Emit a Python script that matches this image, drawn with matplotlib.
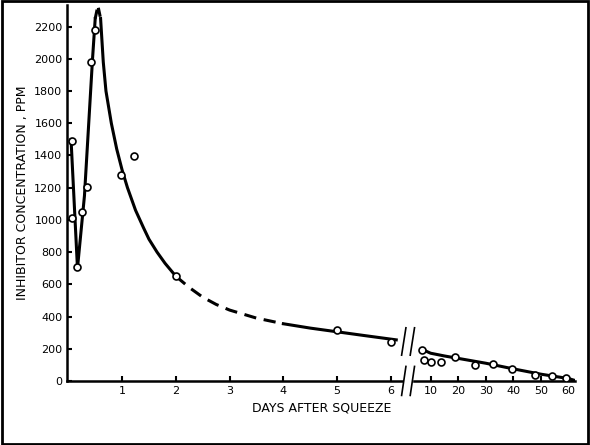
import numpy as np
import matplotlib
matplotlib.use("Agg")
import matplotlib.pyplot as plt

# measured points (days, ppm)
pt_days = [0.07, 0.07, 0.17, 0.26, 0.35, 0.43, 0.5, 0.98, 1.22, 2.0, 5.0, 6.0,
           7.0, 7.5, 10, 13.7, 19, 26, 32.7, 39.6, 48, 54, 59]
pt_ppm = [1490, 1012, 708, 1050, 1205, 1981, 2180, 1280, 1398, 652, 317, 242,
          193, 130, 118, 118, 149, 99, 106, 75, 37, 31, 19]

# fitted curve
rise_days = [0.05, 0.17, 0.3, 0.45, 0.5]
rise_ppm = [1500, 700, 1150, 2000, 2250]
peak_days = [0.5, 0.55, 0.6]
peak_ppm = [2250, 2330, 2250]
fall_days = [0.6, 0.65, 0.7, 0.8, 0.9, 1.0, 1.1, 1.25, 1.4, 1.5, 1.65, 1.8, 2.0]
fall_ppm = [2250, 1980, 1800, 1600, 1440, 1310, 1200, 1060, 950, 880, 800, 730, 650]
dash_days = [2.0, 2.25, 2.5, 2.75, 3.0, 3.5, 4.0]
dash_ppm = [650, 580, 520, 475, 440, 390, 355]
tail_days = [4.0, 4.5, 5.0, 5.5, 6.1]
tail_ppm = [355, 328, 305, 282, 255]
late_days = [7, 10, 15, 20, 30, 40, 50, 60, 62]
late_ppm = [195, 172, 155, 140, 110, 75, 42, 15, 5]

x_ticks_days = [1, 2, 3, 4, 5, 6, 10, 20, 30, 40, 50, 60]


def u(d):
    d = np.asarray(d, dtype=float)
    return np.where(d <= 6.2, d, 6.74 + (d - 10) * 0.0512)


fig = plt.figure(figsize=(5.9, 4.45), dpi=100)
ax = fig.add_axes([0.114, 0.144, 0.861, 0.845])
kw = dict(color="black", lw=2.2)
ax.plot(u(rise_days), rise_ppm, **kw)
ax.plot(u(peak_days), peak_ppm, ls=(0, (3, 2)), **kw)
ax.plot(u(fall_days), fall_ppm, **kw)
ax.plot(u(dash_days), dash_ppm, ls=(0, (4, 2.5)), **kw)
ax.plot(u(tail_days), tail_ppm, **kw)
ax.plot(u(late_days), late_ppm, **kw)
ax.plot(u(pt_days), pt_ppm, "o", mfc="white", mec="black", ms=5, mew=1.2, zorder=5)

ax.set_xlim(-0.02, 9.43)
ax.set_ylim(0, 2335)
ax.set_yticks(range(0, 2201, 200))
ax.set_xticks(u(x_ticks_days))
ax.set_xticklabels([str(d) for d in x_ticks_days])
for s in ("top", "right"):
    ax.spines[s].set_visible(False)
for s in ("left", "bottom"):
    ax.spines[s].set_linewidth(1.8)
ax.tick_params(direction="in", width=1.5, labelsize=8)
ax.set_xlabel("DAYS AFTER SQUEEZE", fontsize=9, labelpad=4)
ax.set_ylabel("INHIBITOR CONCENTRATION , PPM", fontsize=9)

# axis break: gap in bottom spine plus slanted marks
ax.fill_betweenx([-25, 25], 6.24, 6.40, color="white", clip_on=False, zorder=6)
for x0 in (6.24, 6.40):
    ax.plot([x0 - 0.04, x0 + 0.04], [-90, 90], color="black", lw=1.2,
            clip_on=False, zorder=7)
    ax.plot([x0 - 0.04, x0 + 0.04], [160, 330], color="black", lw=1.2,
            clip_on=False, zorder=7)

fig.patches.append(plt.Rectangle((0.003, 0.003), 0.994, 0.994, transform=fig.transFigure,
                                 fill=False, ec="black", lw=2))
fig.savefig("out.png", dpi=100)
